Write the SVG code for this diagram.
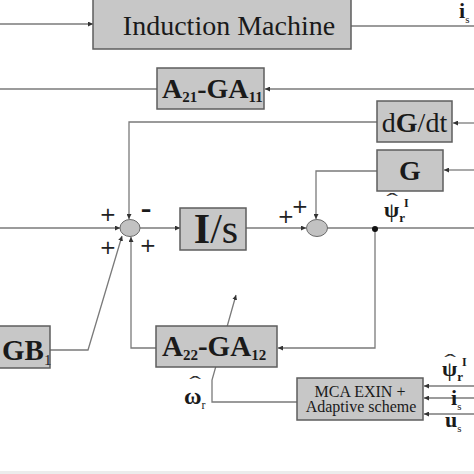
<svg xmlns="http://www.w3.org/2000/svg" width="474" height="474" viewBox="0 0 474 474">
<defs>
<marker id="ah" viewBox="0 0 8 8" refX="8" refY="4" markerWidth="5" markerHeight="5" orient="auto" markerUnits="userSpaceOnUse">
<path d="M0,0 L8,4 L0,8 Z" fill="#333"/>
</marker>
<style>
.box{fill:#c7c7c7;stroke:#5e5e5e;stroke-width:1.5}
.sum{fill:#c2c2c2;stroke:#6a6a6a;stroke-width:1}
.ln{fill:none;stroke:#7a7a7a;stroke-width:1.3}
.ar{marker-end:url(#ah)}
.t{font-family:"Liberation Serif","Times New Roman",serif;fill:#1a1a1a}
.b{font-weight:bold}
.sg{font-family:"DejaVu Sans","Liberation Sans",sans-serif;fill:#222;font-size:20px;font-weight:normal}
.hat{font-family:"Liberation Serif","Times New Roman",serif;fill:#333;font-size:22px}
</style>
</defs>
<rect x="0" y="0" width="474" height="474" fill="#ffffff"/>
<rect x="0" y="471" width="474" height="3" fill="#ececec"/>

<g id="connectors">
<line class="ln ar" x1="0" y1="24" x2="93" y2="24"/>
<line class="ln" x1="351" y1="26" x2="474" y2="26"/>
<line class="ln" x1="0" y1="89" x2="157" y2="89"/>
<line class="ln ar" x1="474" y1="89" x2="265" y2="89"/>
<line class="ln ar" x1="474" y1="123" x2="453" y2="123"/>
<polyline class="ln ar" points="377,122 129,122 129,219"/>
<line class="ln ar" x1="474" y1="170" x2="444" y2="170"/>
<polyline class="ln ar" points="377,171 316,171 316,219"/>
<line class="ln ar" x1="0" y1="228" x2="120" y2="228"/>
<line class="ln ar" x1="140" y1="228" x2="180" y2="228"/>
<line class="ln ar" x1="246" y1="228" x2="306" y2="228"/>
<line class="ln" x1="327" y1="228" x2="474" y2="228"/>
<polyline class="ln ar" points="375,229 375,348 278,348"/>
<polyline class="ln ar" points="156,348 131,348 131,237"/>
<polyline class="ln ar" points="50,350 88,350 122,236"/>
<polyline class="ln ar" points="297,402 212,402 212,380 236,295"/>
<line class="ln ar" x1="474" y1="386" x2="424" y2="386"/>
<line class="ln ar" x1="474" y1="398" x2="424" y2="398"/>
<line class="ln ar" x1="474" y1="414" x2="424" y2="414"/>
<circle cx="375" cy="229" r="3" fill="#111"/>
</g>

<g id="induction-machine">
<rect class="box" x="93" y="-2" width="258" height="51"/>
<text class="t" x="229" y="35" font-size="28" text-anchor="middle">Induction Machine</text>
</g>

<g id="a21-ga11">
<rect class="box" x="157" y="68" width="107" height="41"/>
<text class="t b" x="162" y="98" font-size="28">A<tspan font-size="15" dy="4">21</tspan><tspan dy="-4">-GA</tspan><tspan font-size="15" dy="4">11</tspan></text>
</g>

<g id="dgdt">
<rect class="box" x="377" y="101" width="75" height="41"/>
<text class="t" x="414.5" y="132" font-size="28" text-anchor="middle">d<tspan font-weight="bold">G</tspan>/dt</text>
</g>

<g id="g-block">
<rect class="box" x="377" y="150" width="66" height="41"/>
<text class="t b" x="410" y="180" font-size="28" text-anchor="middle">G</text>
</g>

<g id="sum1">
<ellipse class="sum" cx="130" cy="228" rx="10" ry="8.5"/>
<text class="sg" x="108" y="221" text-anchor="middle">+</text>
<text class="t b" x="146" y="218" font-size="32" text-anchor="middle">-</text>
<text class="sg" x="108" y="254" text-anchor="middle">+</text>
<text class="sg" x="148" y="252" text-anchor="middle">+</text>
</g>

<g id="integrator">
<rect class="box" x="180" y="208" width="66" height="42"/>
<text class="t" x="216" y="243" font-size="42" text-anchor="middle"><tspan font-weight="bold">I</tspan>/s</text>
</g>

<g id="sum2">
<ellipse class="sum" cx="317" cy="228" rx="10.5" ry="8.5"/>
<text class="sg" x="286" y="223" text-anchor="middle">+</text>
<text class="sg" x="300" y="213" text-anchor="middle">+</text>
</g>

<g id="psi-label">
<text class="hat" transform="translate(392,208) scale(1.6,1)" text-anchor="middle">ˆ</text>
<text class="t b" x="384" y="217" font-size="22">ψ<tspan font-size="13" dy="5">r</tspan><tspan font-size="12" dx="-1" dy="-15">I</tspan></text>
</g>

<g id="is-top">
<text class="t b" x="459" y="18" font-size="22">i<tspan font-size="11" font-weight="normal" dy="5">s</tspan></text>
</g>

<g id="gb1">
<rect class="box" x="-20" y="326" width="70" height="42"/>
<text class="t b" x="2" y="360" font-size="29">GB<tspan font-size="15" font-weight="normal" dy="5">1</tspan></text>
</g>

<g id="a22-ga12">
<rect class="box" x="156" y="326" width="121" height="41"/>
<text class="t b" x="162" y="356" font-size="29">A<tspan font-size="15" dy="4">22</tspan><tspan dy="-4">-GA</tspan><tspan font-size="15" dy="4">12</tspan></text>
</g>

<g id="omega-label">
<text class="hat" transform="translate(195,391) scale(1.6,1)" text-anchor="middle">ˆ</text>
<text class="t b" x="184" y="404" font-size="24">ω<tspan font-size="12" font-weight="normal" dy="5">r</tspan></text>
</g>

<g id="mca-exin">
<rect class="box" x="297" y="378" width="126" height="42"/>
<text class="t" x="360" y="397" font-size="16" text-anchor="middle" fill="#333">MCA EXIN +</text>
<text class="t" x="361" y="412" font-size="16" text-anchor="middle" fill="#333">Adaptive scheme</text>
</g>

<g id="inputs-right">
<text class="hat" transform="translate(450,369) scale(1.6,1)" text-anchor="middle">ˆ</text>
<text class="t b" x="442" y="376" font-size="22">ψ<tspan font-size="13" dy="5">r</tspan><tspan font-size="12" dx="-1" dy="-15">I</tspan></text>
<text class="t b" x="451" y="405" font-size="22">i<tspan font-size="11" font-weight="normal" dy="5">s</tspan></text>
<text class="t b" x="445" y="427" font-size="22">u<tspan font-size="11" font-weight="normal" dy="5">s</tspan></text>
</g>
</svg>
